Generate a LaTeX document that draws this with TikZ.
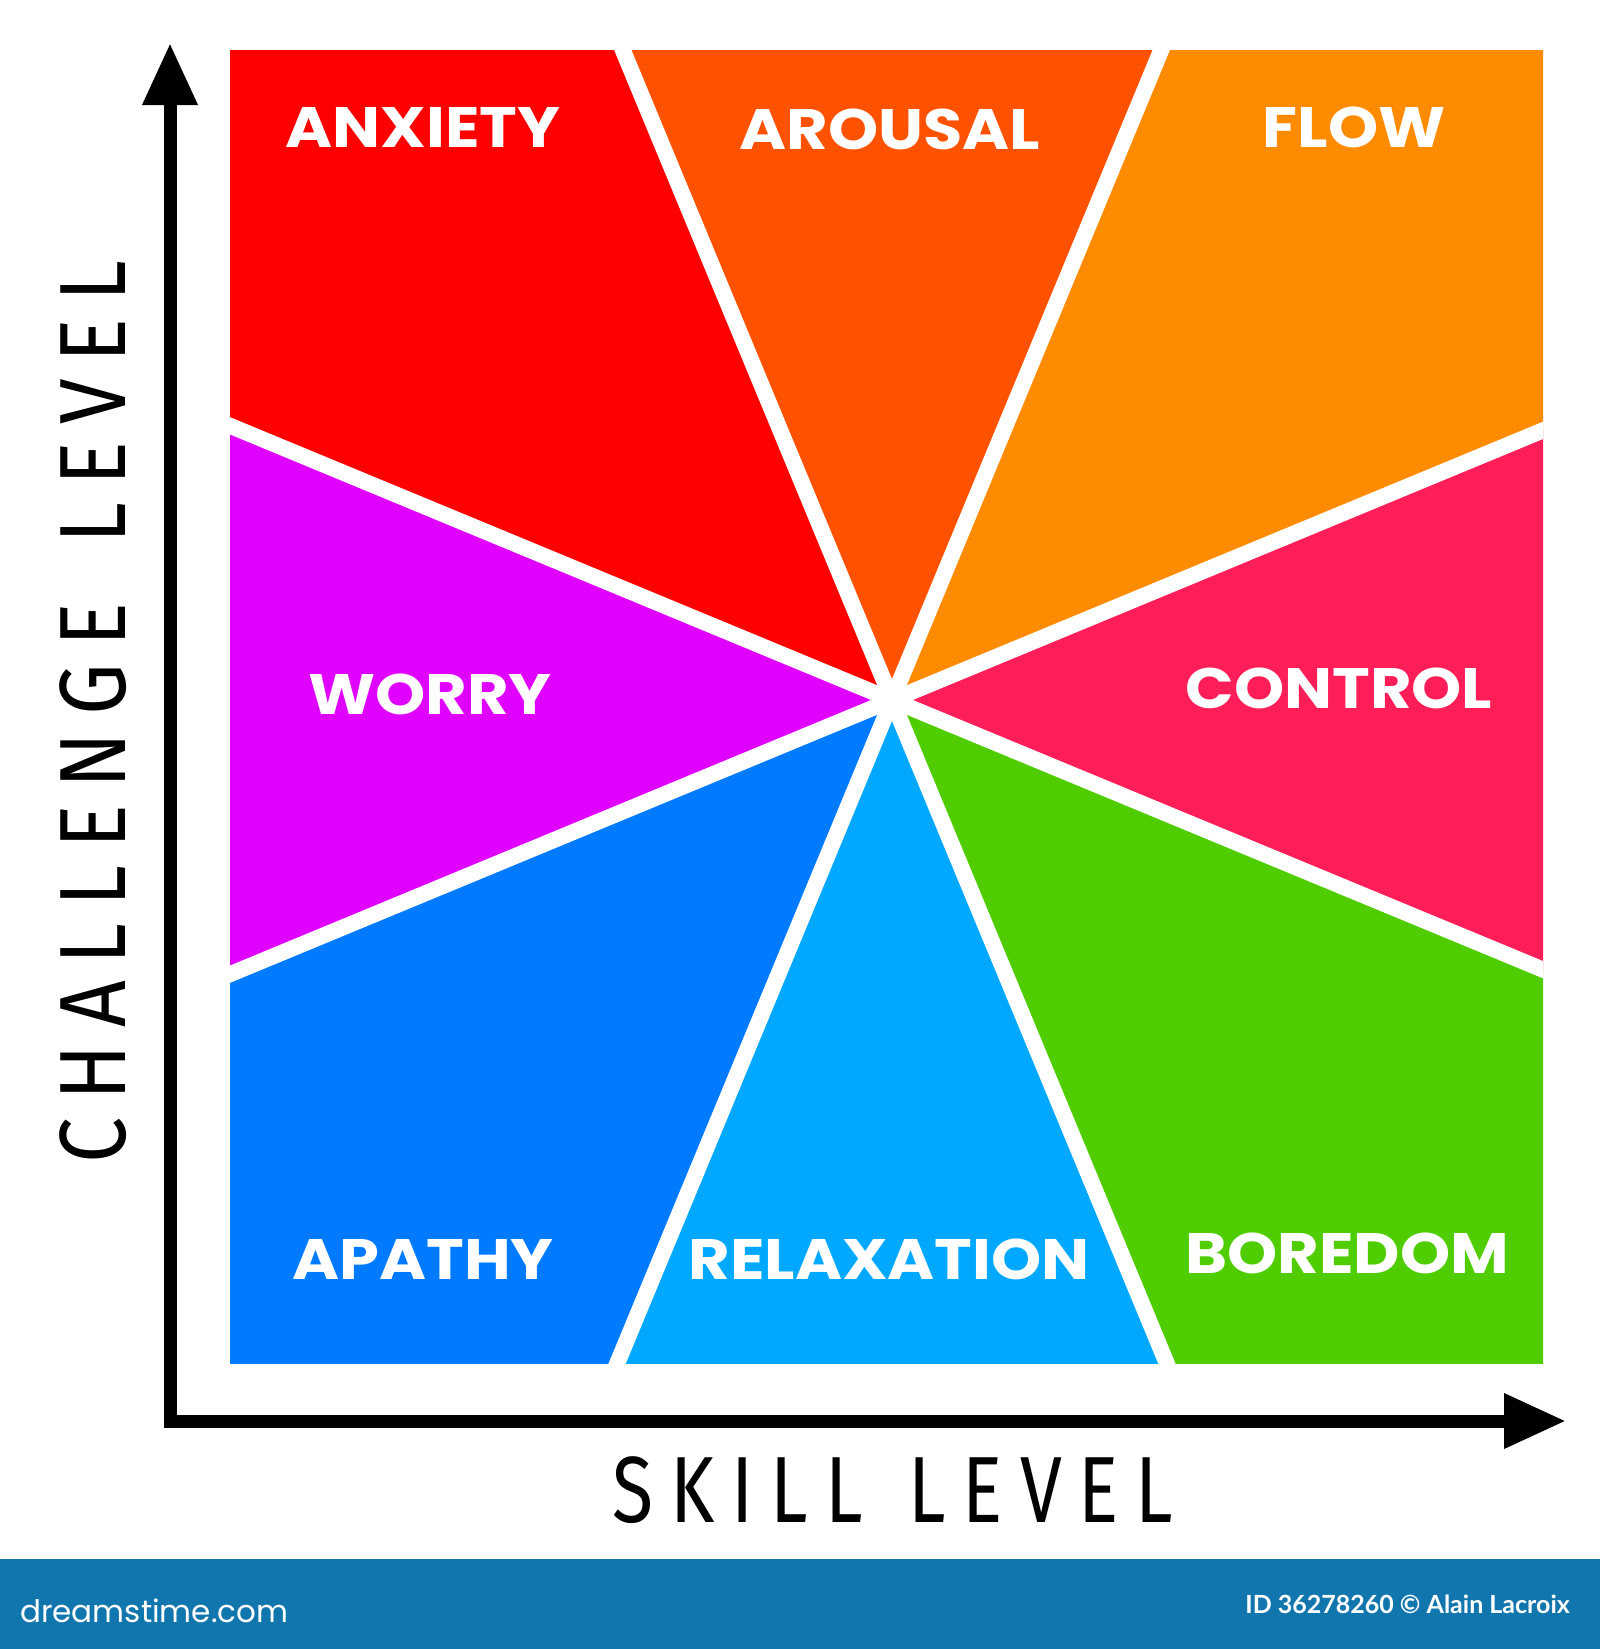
\documentclass[tikz,border=0pt]{standalone}
\usepackage{fontspec}
\usetikzlibrary{arrows.meta}
\newfontfamily\moodfont[FakeStretch=1.12]{Poppins}
\newfontfamily\sitefont{Poppins}
\newfontfamily\axisfont[FakeStretch=0.8,LetterSpace=18]{Fira Sans}
\newfontfamily\tallaxisfont[FakeStretch=0.87,LetterSpace=18]{Fira Sans}
\newfontfamily\idfont{Lato}
\definecolor{anxietyred}{RGB}{254,0,0}
\definecolor{arousalorange}{RGB}{255,82,0}
\definecolor{floworange}{RGB}{255,140,0}
\definecolor{controlpink}{RGB}{255,30,88}
\definecolor{boredomgreen}{RGB}{80,205,0}
\definecolor{relaxblue}{RGB}{0,168,255}
\definecolor{apathyblue}{RGB}{0,122,255}
\definecolor{worrypurple}{RGB}{224,0,255}
\definecolor{footerblue}{RGB}{18,118,174}
\tikzset{
  mood/.style={text=white, inner sep=0pt, font=\moodfont\bfseries\fontsize{57}{60}\selectfont},
  axislabel/.style={inner sep=0pt, font=\axisfont\fontsize{94}{100}\selectfont},
  divider/.style={white, line width=16pt},
  axis/.style={line width=13pt, line join=miter,
    {Triangle[length=62pt,width=52pt]}-{Triangle[length=62pt,width=52pt]}}
}
\begin{document}
\begin{tikzpicture}[x=1pt,y=-1pt]
    \useasboundingbox (0,0) rectangle (1600,1649);
    \fill[white] (0,0) rectangle (1600,1649);
    \coordinate (c) at (892,700);
    % sectors, clipped to the square
    \begin{scope}
        \clip (230,50) rectangle (1543,1363);
        \foreach \col [count=\k from 0] in {controlpink,boredomgreen,relaxblue,apathyblue,worrypurple,anxietyred,arousalorange,floworange} {
            \pgfmathsetmacro{\a}{45*\k-22.5}
            \pgfmathsetmacro{\b}{45*\k+22.5}
            \fill[\col] (c) -- +(\a:2000) -- +(\b:2000) -- cycle;
        }
        \foreach \a in {22.5,67.5,...,337.5}
            \draw[divider] (c) -- +(\a:2000);
    \end{scope}
    \node[mood] (anxiety) at (423,127) {ANXIETY};
    \node[mood] (arousal) at (890,129) {AROUSAL};
    \node[mood] (flow) at (1354,127) {FLOW};
    \node[mood] (worry) at (430,694) {WORRY};
    \node[mood] (control) at (1339,688) {CONTROL};
    \node[mood] (apathy) at (423,1259) {APATHY};
    \node[mood] (relaxation) at (889,1259) {RELAXATION};
    \node[mood] (boredom) at (1347,1253) {BOREDOM};
    % axes
    \coordinate (origin) at (170,1421);
    \coordinate (ytip) at (170,43);
    \coordinate (xtip) at (1566,1421);
    \draw[axis] (ytip) -- (origin) -- (xtip);
    \node[axislabel] (skill) at (893,1490) {SKILL\hspace{46pt}LEVEL};
    \node[axislabel, font=\tallaxisfont\fontsize{94}{100}\selectfont, rotate=90] (challenge) at (93,712) {CHALLENGE\hspace{60pt}LEVEL};
    % footer
    \fill[footerblue] (0,1559) rectangle (1600,1649);
    \node[anchor=base west, inner sep=0pt, text=white, font=\sitefont\fontsize{31}{34}\selectfont] (site) at (20,1622) {dreamstime.com};
    \node[anchor=base east, inner sep=0pt, text=white, font=\idfont\bfseries\fontsize{25}{28}\selectfont] (credit) at (1570,1613) {ID 36278260 © Alain Lacroix};
\end{tikzpicture}
\end{document}
